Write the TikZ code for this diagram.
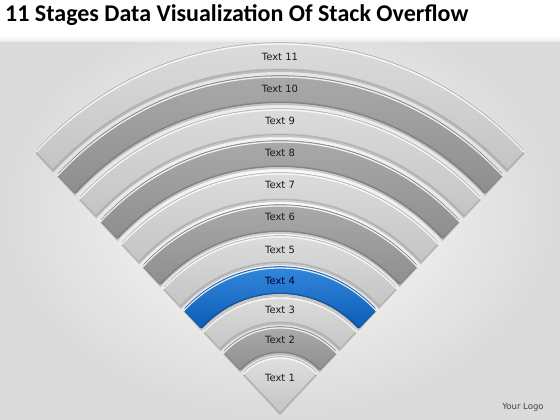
\documentclass[tikz,border=0pt]{standalone}
\usepackage{fontspec}
\setmainfont{DejaVu Sans}
\newfontfamily\titlefont{Carlito}
\definecolor{bgout}{HTML}{DADADA}
\definecolor{lightT}{HTML}{E2E2E2}
\definecolor{lightB}{HTML}{C4C4C4}
\definecolor{lightE}{HTML}{A8A8A8}
\definecolor{darkT}{HTML}{B0B0B0}
\definecolor{darkB}{HTML}{8E8E8E}
\definecolor{darkE}{HTML}{787878}
\definecolor{blueT}{HTML}{3D90E4}
\definecolor{blueB}{HTML}{0A5DB4}
\definecolor{blueE}{HTML}{0A4C94}
\definecolor{labelc}{HTML}{1A1A1A}
\newcommand\bandshape[2]{({280-0.6611*#1},{7+0.7071*#1}) arc[start angle=135, end angle=45, x radius={0.935*#1}, y radius={#1}] -- ({280+0.6611*#2},{7+0.7071*#2}) arc[start angle=45, end angle=135, x radius={0.935*#2}, y radius={#2}] -- cycle}
\newcommand\drawband[5]{%
  \fill[black, opacity=0.18] ([yshift=-2pt]{280-0.6611*#1},{7+0.7071*#1}) arc[start angle=135, end angle=45, x radius={0.935*#1}, y radius={#1}] -- ({280+0.6611*#2},{7+0.7071*#2-2}) arc[start angle=45, end angle=135, x radius={0.935*#2}, y radius={#2}] -- cycle;
  \shade[rounded corners=2pt, top color=#3, bottom color=#4, draw=#5, line width=0.5pt] \bandshape{#1}{#2};
  \draw[white, line width=1.2pt, opacity=0.85] ({280-0.6611*(#1-1)},{7+0.7071*(#1-1)}) arc[start angle=135, end angle=45, x radius={0.935*(#1-1)}, y radius={#1-1}];
  \draw[#5, line width=1pt, opacity=0.6] ({280-0.6611*(#2+1)},{7+0.7071*(#2+1)}) arc[start angle=135, end angle=45, x radius={0.935*(#2+1)}, y radius={#2+1}];
}
\begin{document}
\begin{tikzpicture}[x=1pt,y=1pt,
  lbl/.style={font=\fontsize{10}{12}\selectfont, text=labelc, inner sep=0pt}]
\useasboundingbox (0,0) rectangle (560,420);
\shade[inner color=white, outer color=bgout] (0,0) rectangle (560,420);
\fill[white] (0,384) rectangle (560,420);
\shade[top color=white, bottom color=bgout!60] (0,378) rectangle (560,384);
\node[anchor=base west, inner sep=0pt, font=\titlefont\bfseries\fontsize{24}{28}\selectfont] (title) at (5,398) {11 Stages Data Visualization Of Stack Overflow};
% bands
\drawband{370}{343}{lightT}{lightB}{lightE}
\drawband{337}{310}{darkT}{darkB}{darkE}
\drawband{304}{278}{lightT}{lightB}{lightE}
\drawband{272}{246}{darkT}{darkB}{darkE}
\drawband{240}{213}{lightT}{lightB}{lightE}
\drawband{208}{181}{darkT}{darkB}{darkE}
\drawband{177}{150}{lightT}{lightB}{lightE}
\drawband{146}{119}{blueT}{blueB}{blueE}
\drawband{116}{90}{lightT}{lightB}{lightE}
\drawband{86}{60}{darkT}{darkB}{darkE}
% sector
\fill[black, opacity=0.18] (280,5) -- ({280+0.6611*56},{7+0.7071*56-2}) arc[start angle=45, end angle=135, x radius={0.935*56}, y radius=56] -- cycle;
\shade[rounded corners=2pt, top color=lightT, bottom color=lightB, draw=lightE, line width=0.5pt] (280,7) -- ({280+0.6611*56},{7+0.7071*56}) arc[start angle=45, end angle=135, x radius={0.935*56}, y radius=56] -- cycle;
\draw[white, line width=1.2pt, opacity=0.85] ({280-0.6611*55},{7+0.7071*55}) arc[start angle=135, end angle=45, x radius={0.935*55}, y radius=55];
% labels
\node[lbl] (t11) at (280,363) {Text 11};
\node[lbl] (t10) at (280,331) {Text 10};
\node[lbl] (t9) at (280,299) {Text 9};
\node[lbl] (t8) at (280,267) {Text 8};
\node[lbl] (t7) at (280,235) {Text 7};
\node[lbl] (t6) at (280,203) {Text 6};
\node[lbl] (t5) at (280,170) {Text 5};
\node[lbl, text=black!80!blue] (t4) at (280,139) {Text 4};
\node[lbl] (t3) at (280,110) {Text 3};
\node[lbl] (t2) at (280,80) {Text 2};
\node[lbl] (t1) at (280,42) {Text 1};
\node[font=\fontsize{8.5}{10}\selectfont, text=black!75, inner sep=0pt] (logo) at (523,13) {Your Logo};
\end{tikzpicture}
\end{document}
